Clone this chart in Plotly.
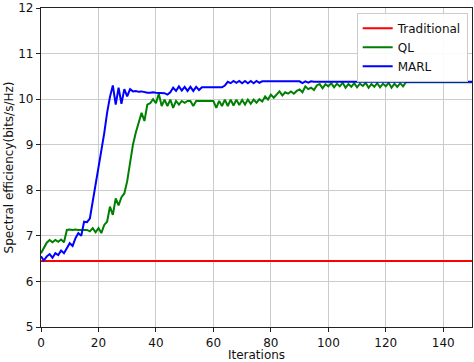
import plotly.graph_objects as go

iterations = list(range(0, 151))

traditional_x = [0, 150]
traditional = [6.45, 6.45]

marl = [
    6.55, 6.46, 6.55, 6.60, 6.52, 6.62, 6.58, 6.68, 6.62, 6.72,
    6.84, 6.78, 6.95, 7.06, 7.00, 7.31, 7.30, 7.38, 7.75, 8.15,
    8.50, 8.85, 9.25, 9.70, 10.05, 10.30, 9.88, 10.25, 9.90, 10.22,
    10.06, 10.22, 10.17, 10.18, 10.16, 10.17, 10.15, 10.14, 10.14, 10.15,
    10.14, 10.14, 10.13, 10.13, 10.10, 10.15, 10.25, 10.18, 10.28, 10.19,
    10.27, 10.18, 10.27, 10.18, 10.27, 10.20, 10.26, 10.26, 10.26, 10.26,
    10.26, 10.26, 10.26, 10.26, 10.30, 10.38, 10.35, 10.40, 10.36, 10.40,
    10.35, 10.40, 10.35, 10.40, 10.35, 10.40, 10.36, 10.39, 10.39, 10.39,
    10.39, 10.39, 10.39, 10.39, 10.39, 10.39, 10.39, 10.39, 10.39, 10.39,
    10.39, 10.35, 10.39, 10.36, 10.39, 10.38, 10.38, 10.38, 10.38, 10.38,
    10.38, 10.38, 10.38, 10.38, 10.38, 10.38, 10.38, 10.38, 10.38, 10.38,
    10.38, 10.38, 10.38, 10.38, 10.38, 10.38, 10.38, 10.38, 10.38, 10.38,
    10.38, 10.38, 10.38, 10.38, 10.38, 10.38, 10.38, 10.38, 10.38, 10.38,
    10.38, 10.38, 10.38, 10.38, 10.38, 10.38, 10.38, 10.38, 10.38, 10.38,
    10.38, 10.38, 10.38, 10.38, 10.38, 10.38, 10.38, 10.38, 10.38, 10.38,
    10.38,
]

ql = [
    6.62, 6.75, 6.85, 6.91, 6.86, 6.91, 6.87, 6.92, 6.86, 7.13,
    7.14, 7.13, 7.14, 7.13, 7.13, 7.14, 7.13, 7.10, 7.17, 7.08,
    7.17, 7.06, 7.24, 7.31, 7.64, 7.46, 7.82, 7.67, 7.85, 7.93,
    8.20, 8.60, 9.00, 9.27, 9.50, 9.70, 9.52, 9.88, 9.91, 10.00,
    9.91, 10.12, 9.85, 9.99, 9.85, 9.99, 9.81, 9.96, 9.88, 9.96,
    9.92, 9.96, 9.96, 9.85, 9.96, 9.96, 9.96, 9.96, 9.96, 9.96,
    9.96, 9.81, 9.96, 9.85, 9.99, 9.85, 9.99, 9.86, 9.99, 9.87,
    9.98, 9.88, 9.99, 9.90, 9.99, 9.92, 10.00, 9.95, 10.06, 9.99,
    10.10, 10.03, 10.10, 10.17, 10.08, 10.15, 10.12, 10.17, 10.12, 10.18,
    10.21, 10.15, 10.28, 10.22, 10.25, 10.20, 10.30, 10.33, 10.24, 10.33,
    10.28, 10.35, 10.26, 10.34, 10.28, 10.36, 10.25, 10.33, 10.27, 10.35,
    10.26, 10.34, 10.29, 10.36, 10.25, 10.33, 10.27, 10.35, 10.26, 10.34,
    10.28, 10.36, 10.25, 10.34, 10.27, 10.35, 10.28, 10.37, 10.37, 10.37,
    10.37, 10.37, 10.37, 10.37, 10.37, 10.37, 10.37, 10.37, 10.37, 10.37,
    10.37, 10.37, 10.37, 10.37, 10.37, 10.37, 10.37, 10.37, 10.37, 10.37,
    10.37,
]

fig = go.Figure()
fig.add_trace(go.Scatter(x=traditional_x, y=traditional, mode="lines", name="Traditional",
                         line=dict(color="#ff0000", width=2)))
fig.add_trace(go.Scatter(x=iterations, y=ql, mode="lines", name="QL",
                         line=dict(color="#008000", width=2)))
fig.add_trace(go.Scatter(x=iterations, y=marl, mode="lines", name="MARL",
                         line=dict(color="#0000ff", width=2)))

axis_common = dict(
    showgrid=True, gridcolor="#cccccc", gridwidth=1,
    showline=True, linecolor="#222222", linewidth=1.2, mirror=True,
    ticks="outside", ticklen=4, tickwidth=1, tickcolor="#222222",
    zeroline=False, automargin=False,
    tickfont=dict(family="DejaVu Sans", size=12, color="#111111"),
)

fig.update_layout(
    width=474, height=362,
    margin=dict(l=41, r=2, t=8, b=35),
    paper_bgcolor="white", plot_bgcolor="white",
    font=dict(family="DejaVu Sans", size=12, color="#111111"),
    xaxis=dict(range=[0, 150], dtick=20,
               title=dict(text="Iterations", standoff=2, font=dict(size=12)),
               **axis_common),
    yaxis=dict(range=[5, 12], dtick=1,
               title=dict(text="Spectral efficiency(bits/s/Hz)", standoff=2, font=dict(size=12)),
               **axis_common),
    legend=dict(x=0.99, y=0.985, xanchor="right", yanchor="top",
                bgcolor="rgba(255,255,255,0.9)", bordercolor="#cccccc", borderwidth=1,
                font=dict(family="DejaVu Sans", size=12), tracegroupgap=0,
                itemwidth=30),
    showlegend=True,
)

fig.write_html("out.html", config={"displayModeBar": False},
               post_script="document.body.style.margin='0';document.body.style.overflow='hidden';")
